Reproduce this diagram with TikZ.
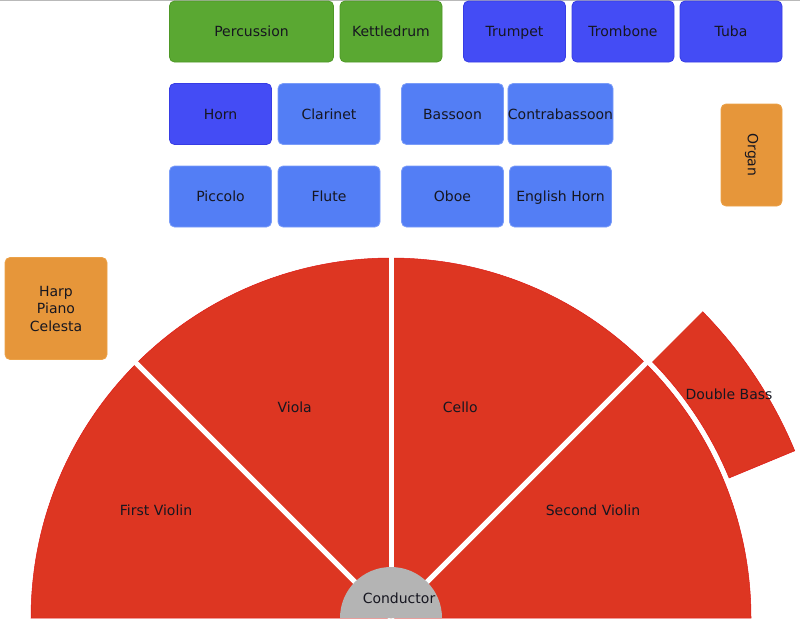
\documentclass[tikz,border=0pt]{standalone}
\usepackage{fontspec}
\setmainfont{DejaVu Sans}
\definecolor{grnF}{RGB}{90,168,50}
\definecolor{grnD}{RGB}{78,152,38}
\definecolor{dbF}{RGB}{68,76,245}
\definecolor{dbD}{RGB}{55,60,228}
\definecolor{lbF}{RGB}{83,126,245}
\definecolor{lbD}{RGB}{122,156,248}
\definecolor{orF}{RGB}{230,150,58}
\definecolor{orD}{RGB}{236,162,72}
\definecolor{secF}{RGB}{221,54,34}
\definecolor{secD}{RGB}{222,24,20}
\definecolor{condF}{RGB}{180,180,180}
\definecolor{txt}{RGB}{22,22,32}
\tikzset{
  box/.style={rectangle, rounded corners=5pt, line width=0.8pt, inner sep=0pt,
    text=txt, font=\fontsize{14}{17.5}\selectfont, align=center},
  oneline/.style={text height=13.2pt, text depth=3pt},
  grnbox/.style={box, oneline, fill=grnF, draw=grnD},
  dbbox/.style={box, oneline, fill=dbF, draw=dbD},
  lbbox/.style={box, oneline, fill=lbF, draw=lbD},
  orbox/.style={box, fill=orF, draw=orD},
  w102/.style={minimum width=102pt, minimum height=61pt},
  seclabel/.style={text=txt, font=\fontsize{14}{17}\selectfont, inner sep=0pt, text height=13.2pt, text depth=3pt},
  sector/.style={fill=secF, draw=secD, line width=0.5pt},
  gapline/.style={white, line width=5pt}
}
\begin{document}
\begin{tikzpicture}[x=1pt,y=-1pt]
\useasboundingbox (0,0) rectangle (800,622);
\draw[gray!55, line width=1pt] (0,0.5) -- (800,0.5);
% row 1
\node[grnbox, minimum width=164pt, minimum height=61pt] (perc) at (251.5,31.5) {Percussion};
\node[grnbox, w102] (kettle) at (391,31.5) {Kettledrum};
\node[dbbox, w102] (trumpet) at (514.5,31.5) {Trumpet};
\node[dbbox, w102] (trombone) at (623,31.5) {Trombone};
\node[dbbox, w102] (tuba) at (731,31.5) {Tuba};
% row 2
\node[dbbox, w102] (horn) at (220.5,114) {Horn};
\node[lbbox, w102] (clarinet) at (329,114) {Clarinet};
\node[lbbox, w102] (bassoon) at (452.5,114) {Bassoon};
\node[lbbox, w102] (contra) at (560.5,114) {Contrabassoon};
% row 3
\node[lbbox, w102] (piccolo) at (220.5,196.5) {Piccolo};
\node[lbbox, w102] (flute) at (329,196.5) {Flute};
\node[lbbox, w102] (oboe) at (452.5,196.5) {Oboe};
\node[lbbox, w102] (ehorn) at (560.5,196.5) {English Horn};
% organ and harp
\node[orbox, minimum width=61pt, minimum height=102pt] (organ) at (751.5,155) {\rotatebox{-90}{Organ}};
\node[orbox, minimum width=102pt, minimum height=102pt] (harp) at (56,308.5) {Harp\\Piano\\Celesta};
% strings
\begin{scope}[shift={(391,618)}, yscale=-1]
  \path[sector] (0,0) -- (0:360) arc[start angle=0, end angle=180, radius=360] -- cycle;
  \path[sector] (22.5:366) arc[start angle=22.5, end angle=45, radius=366]
     -- (45:437) arc[start angle=45, end angle=22.5, radius=437] -- cycle;
  \draw[gapline] (0,0) -- (90:362);
  \draw[gapline] (0,0) -- (135:362);
  \draw[gapline] (0,0) -- (45:362);
  \draw[white, line width=7pt] (45:361) -- (45:442);
  \path[fill=condF] (0:51) arc[start angle=0, end angle=180, radius=51] -- cycle;
\end{scope}
\node[seclabel] (fviolin) at (156,510) {First Violin};
\node[seclabel] (viola) at (294.7,407) {Viola};
\node[seclabel] (cello) at (460.3,407) {Cello};
\node[seclabel] (sviolin) at (593,510) {Second Violin};
\node[seclabel] (dbass) at (729,394) {Double Bass};
\node[seclabel] (conductor) at (399,598) {Conductor};
\end{tikzpicture}
\end{document}
